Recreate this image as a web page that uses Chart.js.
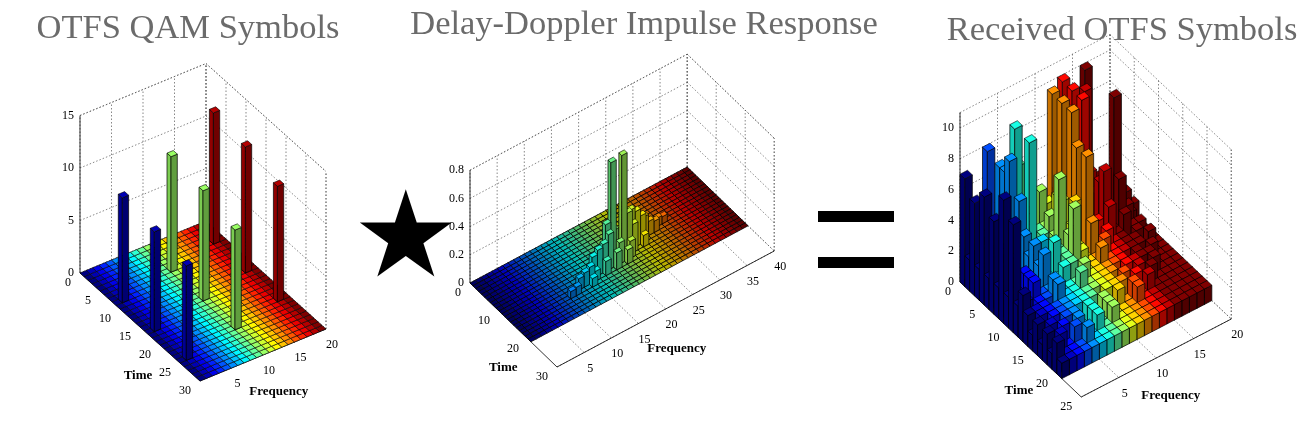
<!DOCTYPE html>
<html><head><meta charset="utf-8">
<script src="https://cdn.jsdelivr.net/npm/chart.js@4/dist/chart.umd.min.js"></script>
<style>
body{margin:0;background:#fff;}
#wrap{position:relative;width:1300px;height:443px;overflow:hidden;}
.title{position:absolute;font-family:"Liberation Serif",serif;font-size:34.5px;color:#6b6b6b;white-space:nowrap;transform:translateX(-50%);}
.eq{position:absolute;background:#000;left:818px;width:76px;height:11px;}
#star{position:absolute;left:352px;top:175px;font-family:"DejaVu Sans";font-size:120px;line-height:120px;color:#000;}
</style></head><body>
<div id="wrap">
<canvas id="c" width="1300" height="443"></canvas>
<div class="title" style="left:188px;top:7px">OTFS QAM Symbols</div>
<div class="title" style="left:644px;top:3px">Delay-Doppler Impulse Response</div>
<div class="title" style="left:1122px;top:9px">Received OTFS Symbols</div>
<div id="star">★</div>
<div class="eq" style="top:211px"></div>
<div class="eq" style="top:257px"></div>
</div>
<script>
// ---- data ----
const qamTime = 30, qamFreq = 20;
const qamSpikes = [ // [time, frequency, height]
  [8,1,10],[16,1,9.5],[24,1,9],
  [6,10,11],[14,10,10.5],[22,10,9.5],
  [4,18,12.5],[12,18,12],[20,18,11]
];
const ddTime = 30, ddFreq = 40, ddFloorRows = 21;
const ddBars = [ // [delay, doppler, value]
  [12,19,0.72],[12,21,0.73],
  [15,10,0.05],[15,11,0.06],[14,12,0.08],[14,13,0.1],[14,14,0.12],[13,15,0.15],
  [13,16,0.18],[13,17,0.2],[13,18,0.25],[12,18,0.3],[13,20,0.15],[12,20,0.12],
  [12,22,0.3],[12,23,0.2],[11,23,0.28],[11,24,0.25],[11,25,0.2],[10,26,0.15],
  [10,27,0.1],[10,28,0.08],[9,29,0.06],[9,30,0.05],[14,19,0.12],[14,21,0.1],
  [11,20,0.2],[11,19,0.1],[14,17,0.1],[12,16,0.1],[11,22,0.15],[13,22,0.12],
  [15,14,0.06],[10,24,0.1],[12,25,0.08],[14,15,0.07]
];
const rxTime = 25, rxFreq = 20, rxColorTop = 15;
const rxRows = [ // one string per time index, one char per frequency, 'a' = 10
  "7128121622123a21a221",
  "22327293312a42531322",
  "6121732331229a421231",
  "23328232542a31a23321",
  "7132139332241a521321",
  "23326223452a41423332",
  "6231423235283153a121",
  "23223232735213625311",
  "81224433242822423221",
  "22323243432423221211",
  "71314223632232222121",
  "22322233222322222111",
  "31223222322222121211",
  "22213223222212222111",
  "12222222222121212111",
  "21222222122212121111",
  "12122121212121211111",
  "21212121211121111111",
  "12121121211111111111",
  "21112111111111111111",
  "11111111111111111111"
];
const qamZTicks = [0,5,10,15], qamTTicks = [0,5,10,15,20,25,30], qamFTicks = [5,10,15,20];
const ddZTicks = [0,0.2,0.4,0.6,0.8], ddTTicks = [0,10,20,30], ddFTicks = [5,10,15,20,25,30,35,40];
const rxZTicks = [0,2,4,6,8,10], rxTTicks = [0,5,10,15,20,25], rxFTicks = [5,10,15,20];

// ---- projections (page-space) ----
const panels = [
  {o:[80,273], tu:[4,3.6], fu:[6.3,-2.6], zu:10.5, T:qamTime, F:qamFreq, Z:15, zt:qamZTicks, tt:qamTTicks, ft:qamFTicks},
  {o:[470,283], tu:[2.9,2.8], fu:[5.43,-2.9], zu:141, T:ddTime, F:ddFreq, Z:0.8, zt:ddZTicks, tt:ddTTicks, ft:ddFTicks},
  {o:[960,282], tu:[4.85,4.6], fu:[7.5,-3.9], zu:15.4, T:rxTime, F:rxFreq, Z:11, zt:rxZTicks, tt:rxTTicks, ft:rxFTicks}
];
function jet(v){
  v=Math.max(0,Math.min(1,v));
  const r=Math.max(0,Math.min(1,1.5-Math.abs(4*v-3)));
  const g=Math.max(0,Math.min(1,1.5-Math.abs(4*v-2)));
  const b=Math.max(0,Math.min(1,1.5-Math.abs(4*v-1)));
  return [r*255,g*255,b*255];
}
function rgb(c,k){return `rgb(${Math.round(c[0]*k)},${Math.round(c[1]*k)},${Math.round(c[2]*k)})`;}

const plugin = {id:'bars3d', afterDraw(chart){
  const ctx=chart.ctx, sx=chart.scales.x, sy=chart.scales.y;
  function P(p,t,f,z){
    const X=p.o[0]+t*p.tu[0]+f*p.fu[0];
    const Y=p.o[1]+t*p.tu[1]+f*p.fu[1]-z*p.zu;
    return [sx.getPixelForValue(X), sy.getPixelForValue(Y)];
  }
  function poly(pts,fill,lw){
    ctx.beginPath();ctx.moveTo(pts[0][0],pts[0][1]);
    for(let i=1;i<pts.length;i++)ctx.lineTo(pts[i][0],pts[i][1]);
    ctx.closePath();ctx.fillStyle=fill;ctx.fill();
    ctx.lineWidth=lw;ctx.strokeStyle='#000';ctx.stroke();
  }
  function bar(p,t,f,z,c,k,lw){
    k=k||1; lw=lw||0.6;
    if(z>0){
      poly([P(p,t,f,0),P(p,t+1,f,0),P(p,t+1,f,z),P(p,t,f,z)],rgb(c,0.8*k),0.7);
      poly([P(p,t+1,f,0),P(p,t+1,f+1,0),P(p,t+1,f+1,z),P(p,t+1,f,z)],rgb(c,0.62*k),0.7);
    }
    poly([P(p,t,f,z),P(p,t+1,f,z),P(p,t+1,f+1,z),P(p,t,f+1,z)],rgb(c,k),lw);
  }
  function box(p){
    ctx.save();ctx.setLineDash([1.5,2]);ctx.strokeStyle='#555';ctx.lineWidth=0.7;
    const line=(a,b)=>{ctx.beginPath();ctx.moveTo(a[0],a[1]);ctx.lineTo(b[0],b[1]);ctx.stroke();};
    p.zt.forEach(z=>{line(P(p,0,0,z),P(p,0,p.F,z));line(P(p,0,p.F,z),P(p,p.T,p.F,z));});
    line(P(p,0,0,p.Z),P(p,0,p.F,p.Z));line(P(p,0,p.F,p.Z),P(p,p.T,p.F,p.Z));
    p.ft.concat([0]).forEach(f=>line(P(p,0,f,0),P(p,0,f,p.Z)));
    p.tt.concat([0,p.T]).forEach(t=>line(P(p,t,p.F,0),P(p,t,p.F,p.Z)));
    p.tt.forEach(t=>line(P(p,t,0,0),P(p,t,p.F,0)));
    p.ft.forEach(f=>line(P(p,0,f,0),P(p,p.T,f,0)));
    ctx.restore();
    ctx.strokeStyle='#000';ctx.lineWidth=0.8;
    const sl=(a,b)=>{ctx.beginPath();ctx.moveTo(a[0],a[1]);ctx.lineTo(b[0],b[1]);ctx.stroke();};
    sl(P(p,0,0,0),P(p,0,0,p.Z));sl(P(p,0,0,0),P(p,p.T,0,0));sl(P(p,p.T,0,0),P(p,p.T,p.F,0));
    ctx.fillStyle='#000';ctx.font='12px "Liberation Serif"';
    ctx.textAlign='right';ctx.textBaseline='middle';
    p.zt.forEach(z=>{const q=P(p,0,0,z);ctx.fillText(String(z),q[0]-6,q[1]);});
    p.tt.forEach(t=>{const q=P(p,t,0,0);ctx.fillText(String(t),q[0]-9,q[1]+10);});
    ctx.textAlign='center';
    p.ft.forEach(f=>{const q=P(p,p.T,f,0);ctx.fillText(String(f),q[0]+6,q[1]+16);});
    ctx.font='bold 13px "Liberation Serif"';
    let q=P(p,p.T*0.75,0,0);ctx.fillText('Time',q[0]-32,q[1]+22);
    q=P(p,p.T,p.F*0.45,0);ctx.fillText('Frequency',q[0]+22,q[1]+34);
  }
  // panel 1
  let p=panels[0]; box(p);
  for(let t=qamTime-1;t>=0;t--)for(let f=0;f<qamFreq;f++)bar(p,t,f,0,jet(f/(qamFreq-1)));
  qamSpikes.slice().sort((a,b)=>a[0]-b[0]||b[1]-a[1]).forEach(s=>bar(p,s[0],s[1],s[2],jet(s[1]/(qamFreq-1))));
  // panel 2
  p=panels[1]; box(p);
  for(let t=0;t<ddFloorRows;t++)for(let f=0;f<ddFreq;f++)bar(p,t,f,0,jet(f/(ddFreq-1)),0.72,0.8);
  ddBars.slice().sort((a,b)=>a[0]-b[0]||b[1]-a[1]).forEach(s=>bar(p,s[0],s[1],s[2],jet(s[1]/(ddFreq-1)),0.95));
  // panel 3
  p=panels[2]; box(p);
  const cells=[];
  rxRows.forEach((row,t)=>{for(let f=0;f<row.length;f++){const ch=row[f];cells.push([t,f,ch==='a'?10:parseInt(ch,10)]);}});
  cells.sort((a,b)=>a[0]-b[0]||b[1]-a[1]).forEach(s=>bar(p,s[0],s[1],s[2],jet(s[1]/rxColorTop)));
}};

new Chart(document.getElementById('c'),{
  type:'scatter',
  data:{datasets:[{data:[],pointRadius:0}]},
  options:{responsive:false,animation:false,devicePixelRatio:1,
    layout:{padding:0},
    plugins:{legend:{display:false},tooltip:{enabled:false}},
    scales:{x:{type:'linear',min:0,max:1300,display:false},
            y:{type:'linear',min:0,max:443,reverse:true,display:false}}},
  plugins:[plugin]
});
</script></body></html>
